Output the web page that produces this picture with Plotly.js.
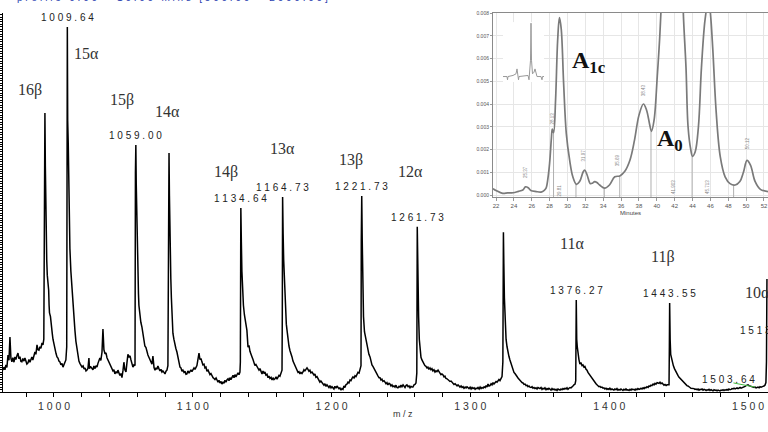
<!DOCTYPE html>
<html><head><meta charset="utf-8">
<script src="https://cdn.plot.ly/plotly-3.0.1.min.js"></script>
<style>html,body{margin:0;padding:0;background:#fff;} #chart{width:768px;height:432px;}</style>
</head><body><div id="chart"></div>
<script>
// ---- Mass spectrum (m/z vs relative intensity) ----
const mz = [963.3,964.0,964.7,965.4,966.1,966.9,967.6,968.3,969.0,969.7,970.4,971.2,971.9,972.6,973.4,974.1,974.8,975.5,976.2,976.9,977.6,978.4,979.1,979.8,980.5,981.3,982.0,982.7,983.4,984.1,984.8,985.6,986.3,987.0,987.8,988.5,989.2,989.9,990.6,991.4,992.1,992.7,993.1,993.5,993.8,994.1,994.5,994.8,995.2,995.5,995.9,996.2,996.5,996.8,997.5,998.3,998.8,999.3,1000.0,1000.8,1001.5,1002.2,1002.9,1003.6,1004.3,1005.0,1005.8,1006.5,1007.2,1007.9,1008.6,1009.2,1009.4,1009.64,1009.9,1010.3,1010.8,1011.5,1012.2,1013.0,1013.7,1014.4,1015.1,1015.8,1016.6,1017.3,1018.0,1018.7,1019.5,1020.2,1021.0,1021.7,1022.4,1023.1,1023.8,1024.5,1025.2,1025.6,1026.3,1027.4,1028.1,1028.8,1029.6,1030.3,1031.0,1031.7,1032.4,1033.1,1033.8,1034.6,1035.3,1035.7,1036.0,1036.8,1037.5,1038.2,1038.9,1039.6,1040.4,1041.1,1041.8,1042.5,1043.2,1043.9,1044.7,1045.4,1046.1,1046.8,1047.5,1048.3,1049.0,1049.7,1050.4,1051.1,1051.9,1052.6,1053.3,1054.0,1054.8,1055.5,1056.2,1056.9,1057.6,1058.4,1058.7,1059.0,1059.3,1059.7,1060.1,1060.5,1060.9,1061.2,1061.9,1062.6,1063.4,1064.1,1064.8,1065.5,1066.3,1067.0,1067.7,1068.4,1069.2,1069.9,1070.6,1071.3,1071.7,1072.1,1072.8,1073.5,1074.2,1074.9,1075.6,1076.4,1077.1,1077.8,1078.5,1079.3,1080.0,1080.7,1081.4,1082.1,1082.6,1082.9,1083.2,1083.6,1084.2,1084.6,1085.0,1085.7,1086.4,1087.1,1087.8,1088.6,1089.3,1090.0,1090.8,1091.5,1092.2,1092.9,1093.7,1094.4,1095.1,1095.8,1096.5,1097.3,1098.0,1098.7,1099.4,1100.1,1100.9,1101.6,1102.3,1103.0,1103.8,1104.5,1105.2,1105.9,1106.6,1107.3,1108.1,1108.8,1109.5,1110.2,1111.0,1111.7,1112.4,1113.1,1113.9,1114.6,1115.3,1116.0,1116.8,1117.5,1118.2,1118.9,1119.6,1120.4,1121.0,1121.8,1122.5,1123.2,1123.9,1124.6,1125.4,1126.1,1126.8,1127.5,1128.2,1129.0,1129.7,1130.4,1131.1,1131.8,1132.6,1133.3,1134.0,1134.3,1134.64,1135.0,1135.4,1135.9,1136.5,1137.2,1138.0,1139.0,1139.8,1140.5,1141.2,1142.0,1142.7,1143.4,1144.1,1144.8,1145.5,1146.3,1147.0,1147.7,1148.4,1149.1,1149.9,1150.6,1151.3,1152.0,1152.7,1153.5,1154.2,1154.9,1155.6,1156.4,1157.1,1157.8,1158.5,1159.2,1160.0,1160.7,1161.4,1162.1,1162.8,1163.6,1164.3,1164.5,1164.73,1165.1,1165.5,1166.1,1166.8,1167.4,1167.9,1168.6,1169.3,1170.0,1170.8,1171.5,1172.2,1172.9,1173.6,1174.3,1175.1,1175.8,1176.5,1177.2,1177.9,1178.7,1179.4,1180.1,1180.8,1181.5,1182.3,1183.0,1183.7,1184.4,1185.1,1185.9,1186.6,1187.3,1188.0,1188.7,1189.5,1190.2,1190.9,1191.6,1192.3,1193.1,1193.8,1194.5,1195.2,1196.0,1196.7,1197.4,1198.1,1198.8,1199.6,1200.3,1201.0,1201.7,1202.4,1203.2,1203.9,1204.6,1205.3,1206.0,1206.8,1207.5,1208.2,1208.9,1209.6,1210.4,1211.1,1211.8,1212.5,1213.3,1214.0,1214.7,1215.4,1216.2,1216.9,1217.6,1218.3,1219.0,1219.8,1220.5,1221.2,1221.4,1221.73,1222.1,1222.5,1223.0,1223.7,1224.5,1225.5,1226.2,1226.9,1227.7,1228.4,1229.1,1229.8,1230.6,1231.3,1232.0,1232.7,1233.4,1234.2,1234.9,1235.6,1236.3,1237.0,1237.8,1238.5,1239.2,1239.9,1240.6,1241.4,1242.1,1242.8,1243.5,1244.2,1245.0,1245.7,1246.4,1247.1,1247.8,1248.6,1249.3,1250.0,1250.7,1251.5,1252.2,1252.9,1253.6,1254.3,1255.1,1255.8,1256.5,1257.2,1257.9,1258.6,1259.4,1260.1,1260.8,1261.4,1261.73,1262.0,1262.3,1262.7,1263.2,1263.8,1264.4,1265.1,1265.8,1266.5,1267.2,1268.0,1268.7,1269.4,1270.1,1270.9,1271.6,1272.3,1273.0,1273.8,1274.5,1275.2,1275.9,1276.7,1277.4,1278.1,1278.8,1279.5,1280.3,1281.0,1281.7,1282.4,1283.2,1283.9,1284.6,1285.3,1286.1,1286.8,1287.5,1288.2,1289.0,1289.7,1290.4,1291.1,1291.8,1292.5,1293.3,1294.0,1294.7,1295.4,1296.2,1296.9,1297.6,1298.3,1299.0,1299.8,1300.5,1301.2,1301.9,1302.7,1303.4,1304.1,1304.8,1305.5,1306.3,1307.0,1307.7,1308.4,1309.1,1309.9,1310.6,1311.3,1312.0,1312.7,1313.4,1314.1,1314.9,1315.6,1316.3,1317.0,1317.7,1318.5,1319.2,1319.9,1320.6,1321.3,1322.1,1322.8,1323.4,1323.8,1324.1,1324.5,1325.0,1325.7,1326.4,1327.1,1327.8,1328.5,1329.3,1330.0,1330.7,1331.4,1332.1,1332.9,1333.6,1334.3,1335.0,1335.8,1336.5,1337.2,1337.9,1338.6,1339.4,1340.1,1340.8,1341.5,1342.2,1342.9,1343.7,1344.4,1345.1,1345.8,1346.5,1347.3,1348.0,1348.7,1349.4,1350.1,1350.9,1351.6,1352.3,1353.0,1353.7,1354.5,1355.2,1355.9,1356.6,1357.3,1358.1,1358.8,1359.5,1360.2,1361.0,1361.7,1362.4,1363.1,1363.8,1364.6,1365.3,1366.0,1366.7,1367.4,1368.2,1368.9,1369.6,1370.3,1371.0,1371.8,1372.5,1373.2,1373.9,1374.6,1375.4,1375.9,1376.1,1376.27,1376.6,1377.0,1377.5,1378.2,1378.9,1379.6,1380.4,1381.1,1381.8,1382.5,1383.2,1384.0,1384.7,1385.4,1386.1,1386.8,1387.6,1388.3,1389.0,1389.7,1390.5,1391.2,1391.9,1392.6,1393.3,1394.0,1394.8,1395.5,1396.2,1396.9,1397.7,1398.4,1399.1,1399.8,1400.5,1401.3,1402.0,1402.7,1403.4,1404.1,1404.9,1405.6,1406.3,1407.0,1407.8,1408.5,1409.2,1409.9,1410.6,1411.4,1412.1,1412.8,1413.5,1414.3,1415.0,1415.7,1416.4,1417.1,1417.9,1418.6,1419.3,1420.0,1420.7,1421.5,1422.2,1422.9,1423.6,1424.4,1425.1,1425.8,1426.5,1427.2,1428.0,1428.7,1429.4,1430.1,1430.8,1431.6,1432.3,1433.0,1433.7,1434.5,1435.2,1435.9,1436.6,1437.3,1438.1,1438.8,1439.5,1440.2,1441.0,1441.7,1442.4,1443.1,1443.35,1443.55,1443.9,1444.3,1444.8,1445.5,1446.2,1447.0,1447.7,1448.4,1448.8,1449.5,1450.2,1451.0,1451.7,1452.4,1453.1,1453.8,1454.6,1455.3,1456.0,1456.7,1457.4,1458.2,1458.9,1459.6,1460.4,1461.1,1461.8,1462.5,1463.3,1464.0,1464.7,1465.4,1466.1,1466.9,1467.6,1468.3,1469.0,1469.8,1470.5,1471.2,1471.9,1472.6,1473.4,1474.1,1474.8,1475.5,1476.3,1477.0,1477.7,1478.4,1479.1,1479.8,1480.6,1481.3,1482.0,1482.7,1483.4,1484.2,1484.9,1485.6,1486.3,1487.0,1487.8,1488.5,1489.2,1489.9,1490.7,1491.4,1492.1,1492.8,1493.6,1494.3,1495.0,1495.7,1496.4,1497.2,1497.9,1498.6,1499.3,1500.0,1500.7,1501.5,1502.2,1502.9,1503.6,1504.4,1505.1,1505.8,1506.5,1507.2,1508.0,1508.7,1509.4,1510.1,1510.8,1511.5,1512.2,1512.9,1513.3,1513.64];
const intensity = [5.8,6.6,5.9,7.2,6.5,9.8,8.4,14.6,9.0,8.0,9.1,7.9,9.3,8.6,9.7,10.3,8.8,9.4,8.1,8.0,8.9,8.2,9.0,8.3,7.4,7.7,8.6,7.9,8.8,9.3,8.5,9.8,10.6,10.0,12.5,11.2,11.1,12.0,11.6,13.0,12.5,14.0,58,74,60,50,40,35,31,30,28,27,23,21,20,18,15.5,14,12.5,11.8,10.2,9.3,9.0,8.2,8.0,7.2,7.6,6.6,7.2,7.5,8.5,12,70,96.8,72,66,45,38,32,27,22,19,16.4,13.5,11,9.3,8.2,7.6,7.0,6.6,6.9,6.1,6.4,5.6,5.8,6.3,9.0,6.2,6.8,6.4,5.9,6.9,6.2,7.0,6.6,7.6,8.1,9.0,8.4,10.5,16.7,11.5,11.2,10.1,10.4,9.1,8.5,7.8,7.1,6.8,6.4,5.6,5.9,4.8,5.4,5.0,5.8,5.1,4.4,4.9,3.8,5.6,7.9,5.9,5.3,7.8,10.0,9.2,9.6,8.5,7.4,6.6,7.2,7.0,58,65.5,55,45,37,32,26,23,20,18.5,17.2,15,13.8,12.2,11.8,10.6,9.8,9.2,8.5,8.0,7.4,9.5,7.1,6.5,5.8,6.4,6.0,6.9,6.2,5.6,6.0,5.3,5.6,5.0,4.8,5.5,5.8,7.0,50,63.4,52,38,30,25,20,15.6,14.0,12.5,11.6,10.6,9.0,7.8,6.6,6.4,5.5,5.8,5.2,5.5,4.7,4.8,5.6,5.0,5.3,5.9,5.4,5.8,6.4,6.0,6.7,7.0,8.8,10.3,8.6,8.9,8.0,7.2,7.4,6.4,6.6,5.5,5.8,5.0,4.6,4.9,4.1,3.8,3.6,3.3,3.7,2.9,2.6,3.1,2.4,2.8,2.1,2.7,2.3,3.1,2.6,3.2,3.5,3.0,3.8,3.3,3.7,4.4,3.8,4.6,4.0,4.5,5.1,4.6,5.3,8,48.8,40,32,26,23,20.5,18,16.4,11.9,12.4,10.8,10.2,9.3,8.6,8.0,7.0,7.3,6.6,6.4,5.8,6.2,5.3,4.8,5.6,4.9,5.3,4.5,4.7,3.8,4.2,3.6,3.9,3.2,3.8,3.3,3.5,4.0,3.4,3.8,4.4,4.2,5.0,5.8,20,51.7,42,35,28,22,18,16.4,13.5,12.2,11.0,10.2,9.3,8.2,7.6,6.6,6.0,5.6,5.2,5.4,4.8,5.2,4.9,5.3,5.9,5.6,6.2,6.4,6.0,5.5,5.8,5.1,5.3,4.8,4.5,4.8,3.9,4.1,3.5,3.2,2.6,2.9,2.4,2.1,1.8,2.2,1.5,1.9,1.6,1.2,1.7,1.1,1.4,1.1,0.8,1.5,1.0,1.6,1.3,0.9,1.1,0.5,0.9,0.7,1.6,1.2,2.0,2.1,2.6,2.4,3.2,3.0,3.6,4.0,3.7,4.3,4.1,4.5,5.2,5.0,5.8,7,40,52,40,28,20,16,14.2,12.5,11.1,10.0,9.3,8.0,7.2,6.8,6.2,5.8,5.0,4.7,4.3,3.8,3.8,3.2,3.4,2.8,3.0,2.6,2.2,2.5,1.9,2.3,2.1,1.6,1.9,1.4,1.6,1.3,1.8,1.2,1.1,1.5,1.3,1.8,1.4,1.9,1.6,1.2,1.7,1.9,1.4,1.6,1.1,1.5,1.3,1.3,1.9,2.0,2.4,5,43.8,32,25,20,14,10.5,9.2,8.5,7.9,7.7,7.0,6.8,6.4,6.6,6.0,6.4,5.9,6.2,5.6,5.9,5.3,5.6,5.4,5.8,5.2,5.0,4.6,4.8,4.5,4.0,4.2,3.6,3.5,3.2,3.0,2.8,2.9,2.5,2.4,2.0,2.2,1.8,1.6,1.9,1.5,1.3,1.6,1.2,1.4,1.0,1.3,1.1,1.4,1.1,0.9,1.3,0.8,1.2,0.9,1.1,0.7,1.0,0.9,1.2,0.8,1.3,0.9,1.2,1.0,1.4,1.2,1.7,1.3,2.1,1.6,1.7,2.2,1.9,2.5,2.1,2.4,2.8,2.6,2.9,3.3,3.0,3.8,4.1,8,42.4,34,25,18,14,12,10.2,9.4,8.5,7.4,6.6,5.8,5.2,4.9,4.3,4.1,3.7,3.3,3.0,2.8,2.5,2.4,2.0,2.1,1.7,1.8,1.4,1.6,1.3,1.2,1.4,1.0,1.2,0.9,1.1,0.8,1.2,0.9,0.9,1.2,0.7,1.0,0.8,1.1,0.6,0.9,0.7,1.0,0.7,0.5,0.9,0.6,0.8,0.5,0.7,0.4,0.8,0.6,0.5,0.8,0.6,0.9,0.7,1.0,0.8,1.1,0.7,1.0,1.2,1.1,1.5,1.6,1.9,2.1,3,14,24.4,14,12,10,8.6,7.4,7.8,7.0,7.2,6.6,6.8,6.1,5.8,5.2,4.8,4.4,4.0,3.7,3.2,3.0,2.6,2.2,1.9,1.7,1.4,1.5,1.2,1.3,1.0,1.1,0.8,1.0,0.7,0.9,0.7,1.0,0.6,0.8,0.7,0.5,0.8,0.6,0.9,0.5,0.7,0.5,0.8,0.6,0.4,0.7,0.5,0.8,0.5,0.6,0.4,0.7,0.5,0.8,0.6,0.7,0.5,0.8,0.6,0.9,0.7,0.8,1.0,0.8,1.1,0.9,1.2,1.1,1.4,1.2,1.6,1.5,1.8,1.7,2.1,1.9,2.3,2.1,2.5,2.4,2.3,2.6,2.2,2.4,2.1,1.8,2.0,1.7,1.9,1.8,1.9,12,23.6,14,10,9,8.2,7.0,6.2,5.6,5.2,5.0,4.4,4.0,3.7,3.3,3.0,2.7,2.5,2.1,2.0,1.7,1.6,1.3,1.2,1.0,1.0,0.8,0.9,0.7,0.8,0.6,0.8,0.5,0.7,0.6,0.8,0.5,0.7,0.6,0.4,0.6,0.5,0.7,0.4,0.6,0.5,0.3,0.6,0.4,0.5,0.3,0.5,0.4,0.3,0.5,0.4,0.6,0.4,0.6,0.5,0.7,0.5,0.8,0.6,0.7,0.9,0.8,1.0,0.8,0.9,1.1,0.9,1.0,1.2,1.0,1.1,1.1,1.3,1.5,1.7,1.8,1.9,1.7,1.6,1.4,1.5,1.3,1.2,1.3,1.1,1.2,1.3,1.1,1.4,1.3,1.5,1.5,1.6,1.8,2.5,8,30];

// labelled peaks (m/z value printed above the peak)
const peakMz  = [1009.64, 1059.00, 1134.64, 1164.73, 1221.73, 1261.73, 1376.27, 1443.55];
const peakTop = [96.8, 65.5, 48.8, 51.7, 52.0, 43.8, 24.4, 23.6];
// charge-state labels
const ionText = ['16β','15α','15β','14α','14β','13α','13β','12α','11α','11β','10α'];
const ionMz   = [982.7,1023.8,1049.0,1082.1,1123.9,1165.0,1214.0,1256.5,1373.2,1438.8,1507.0];
const ionY    = [80.1,89.9,77.5,74.3,58.4,64.5,61.5,58.4,39.5,35.8,26.3];
// x tick labels
const xTickVals = [980,1000,1020,1040,1060,1080,1100,1120,1140,1160,1180,1200,1220,1240,1260,1280,1300,1320,1340,1360,1380,1400,1420,1440,1460,1480,1500];
const xLabelled = [1000,1100,1200,1300,1400,1500];

// ---- Inset HPLC chromatogram ----
const inTime = [21.66,22.0,22.75,23.3,23.9,24.5,25.0,25.3,25.6,25.9,26.5,27.05,27.4,27.6,27.8,28.0,28.2,28.3,28.45,28.67,28.9,29.1,29.3,29.57,29.87,30.24,30.6,31.0,31.36,31.74,31.93,32.2,32.56,32.8,33.05,33.3,33.6,34.17,34.7,35.3,35.86,36.4,37.0,37.5,38.0,38.5,38.85,39.2,39.4,39.7,40.05,40.35,40.6,41.0,41.7,42.4,42.8,42.97,43.27,43.5,43.8,44.0,44.3,44.66,45.0,45.4,45.8,46.0,46.27,46.64,47.1,47.65,48.2,48.78,49.3,49.7,50.1,50.5,51.0,51.6,52.45];
const inAbs  = [0.00028,0.0002,0.00007,0.00009,0.0001,0.00016,0.00022,0.00036,0.00032,0.0002,0.00015,0.00013,0.0002,0.0003,0.0007,0.0014,0.0025,0.0029,0.00274,0.0042,0.0068,0.0078,0.0073,0.0049,0.0027,0.00154,0.0008,0.00047,0.00059,0.001,0.0011,0.00088,0.0005,0.00052,0.00059,0.00055,0.00044,0.0003,0.00044,0.0008,0.00084,0.00103,0.00154,0.0024,0.0035,0.004,0.00374,0.0031,0.0028,0.0033,0.0052,0.0071,0.0095,0.016,0.03,0.02,0.011,0.008,0.0056,0.003,0.002,0.0017,0.0019,0.003,0.0056,0.0077,0.0086,0.008,0.0064,0.0037,0.0017,0.0008,0.0005,0.00044,0.00059,0.001,0.00152,0.0013,0.0006,0.00025,0.00015];
const dropTime = [28.44,30.95,34.12,35.85,39.35,43.95,48.6];
const dropAbs  = [0.00274,0.00047,0.0003,0.00084,0.0028,0.0017,0.00044];
const rtText = ['25.37','28.13','31.97','35.69','38.43','50.12','29.81','41.903','45.713'];
const rtTime = [25.3,28.3,31.9,35.7,38.5,50.1,29.1,41.85,45.67];
const rtAbs  = [0.00103,0.00337,0.00176,0.00154,0.00462,0.00227,0.00022,0.00037,0.00037];
// thumbnail trace inside the inset
const thumbX = [0,4,4.5,5,10,13,14,15,15.5,16,22,25,26,26.5,27.5,28,28.5,29.5,31,32,33,34,38,39,39.5,41];
const thumbY = [0,0,-0.06,0,0.02,0.05,0.14,0.03,-0.06,0,0.01,0.02,-0.06,0.02,0.3,0.98,0.3,0.05,0.08,0.14,0.03,0,0,-0.06,0,0];

const spaced = s => s.split('').join(' ');

const dropX = [], dropY = [];
dropTime.forEach((t,i)=>{ dropX.push(t,t,null); dropY.push(-0.0001, dropAbs[i], null); });

const traces = [
  {x: mz, y: intensity, type:'scatter', mode:'lines', line:{color:'#000', width:1.5}, xaxis:'x', yaxis:'y', hoverinfo:'skip'},
  {x: dropX, y: dropY, type:'scatter', mode:'lines', line:{color:'#b0b0b0', width:1}, xaxis:'x2', yaxis:'y2', hoverinfo:'skip'},
  {x: inTime, y: inAbs, type:'scatter', mode:'lines', line:{color:'#7a7a7a', width:1.7, shape:'spline'}, xaxis:'x2', yaxis:'y2', hoverinfo:'skip'},
  {x: thumbX, y: thumbY, type:'scatter', mode:'lines', line:{color:'#999', width:1}, xaxis:'x3', yaxis:'y3', hoverinfo:'skip'}
];

const ann = [];
peakMz.forEach((m,i)=>{
  ann.push({x:m, y:peakTop[i], xref:'x', yref:'y', yanchor:'bottom', yshift:2, showarrow:false,
    text: spaced(m.toFixed(2)), font:{family:'Liberation Sans, Arial', size:10, color:'#222'}});
});
ionText.forEach((t,i)=>{
  ann.push({x:ionMz[i], y:ionY[i], xref:'x', yref:'y', showarrow:false, text:t,
    font:{family:'Liberation Serif, Times New Roman, serif', size:16, color:'#333'}});
});
ann.push({x:1486.3, y:3.4, xref:'x', yref:'y', showarrow:false, text:spaced('1503.64'),
  font:{family:'Liberation Sans, Arial', size:10, color:'#222'}});
ann.push({x:1493.1, y:16.2, xref:'x', yref:'y', xanchor:'left', showarrow:false, text:spaced('1513.64'),
  font:{family:'Liberation Sans, Arial', size:10, color:'#222'}});
ann.push({x:0.5229, y:-0.0765, xref:'paper', yref:'paper', showarrow:false, text:'m / z',
  font:{family:'Liberation Sans, Arial', size:9, color:'#333'}});
ann.push({x:0.0157, y:1.04, xref:'paper', yref:'paper', xanchor:'left', yanchor:'middle', showarrow:false,
  text:spaced('profile 0.00 - 10.00 mins [500.00 - 2000.00]'),
  font:{family:'Liberation Sans, Arial', size:10, color:'#2a3fb0'}});
// inset texts
ann.push({x:32.45, y:0.00585, xref:'x2', yref:'y2', showarrow:false, text:'<b>A<sub>1c</sub></b>',
  font:{family:'Liberation Serif, Times New Roman, serif', size:24, color:'#111'}});
ann.push({x:41.44, y:0.00242, xref:'x2', yref:'y2', showarrow:false, text:'<b>A<sub>0</sub></b>',
  font:{family:'Liberation Serif, Times New Roman, serif', size:24, color:'#111'}});
rtText.forEach((t,i)=>{
  ann.push({x:rtTime[i], y:rtAbs[i], xref:'x2', yref:'y2', showarrow:false, text:t, textangle:-90,
    font:{family:'Liberation Sans, Arial', size:4.5, color:'#888'}});
});

const layout = {
  width:768, height:432,
  margin:{l:3, r:0, t:13, b:40},
  paper_bgcolor:'#fff', plot_bgcolor:'#fff',
  showlegend:false,
  xaxis:{domain:[0,1], anchor:'y', range:[963.3,1514.4], showline:true, linecolor:'#000', linewidth:1,
    ticks:'outside', ticklen:4, tickcolor:'#000', tickwidth:1,
    tickmode:'array', tickvals:xTickVals,
    ticktext:xTickVals.map(v => xLabelled.includes(v) ? spaced(String(v)) : ''),
    tickfont:{family:'Liberation Sans, Arial', size:10.5, color:'#333'},
    showgrid:false, zeroline:false},
  yaxis:{domain:[0,1], anchor:'x', range:[0,100.53], showline:true, linecolor:'#000', linewidth:1,
    ticks:'outside', ticklen:3, tickcolor:'#000', tickwidth:1, tick0:0, dtick:0.65,
    showticklabels:false, showgrid:false, zeroline:false},
  xaxis2:{domain:[0.6405,1], anchor:'y2', range:[21.66,52.45], showline:true, linecolor:'#8a8a8a', linewidth:1, mirror:true,
    ticks:'outside', ticklen:3, tickcolor:'#999', tick0:22, dtick:2,
    tickfont:{family:'Liberation Sans, Arial', size:6, color:'#555'},
    showgrid:true, gridcolor:'#e6e6e6', zeroline:false,
    title:{text:'Minutes', font:{family:'Liberation Sans, Arial', size:6, color:'#444'}, standoff:2}},
  yaxis2:{domain:[0.5145,1], anchor:'x2', range:[-0.000088,0.008], showline:true, linecolor:'#8a8a8a', linewidth:1, mirror:true,
    ticks:'outside', ticklen:2, tickcolor:'#999', tick0:0, dtick:0.001, tickformat:'.3f',
    tickfont:{family:'Liberation Sans, Arial', size:5, color:'#555'},
    showgrid:true, gridcolor:'#e6e6e6', zeroline:false},
  xaxis3:{domain:[0.6536,0.7072], anchor:'y3', range:[0,41], visible:false},
  yaxis3:{domain:[0.818,0.976], anchor:'x3', range:[-0.1,1], visible:false},
  annotations: ann,
  shapes:[{type:'line', xref:'x', yref:'y', x0:1489.5, y0:2.4, x1:1505, y1:1.3, line:{color:'#44bb44', width:1}}]
};

Plotly.newPlot('chart', traces, layout, {staticPlot:true, displayModeBar:false});
</script></body></html>
